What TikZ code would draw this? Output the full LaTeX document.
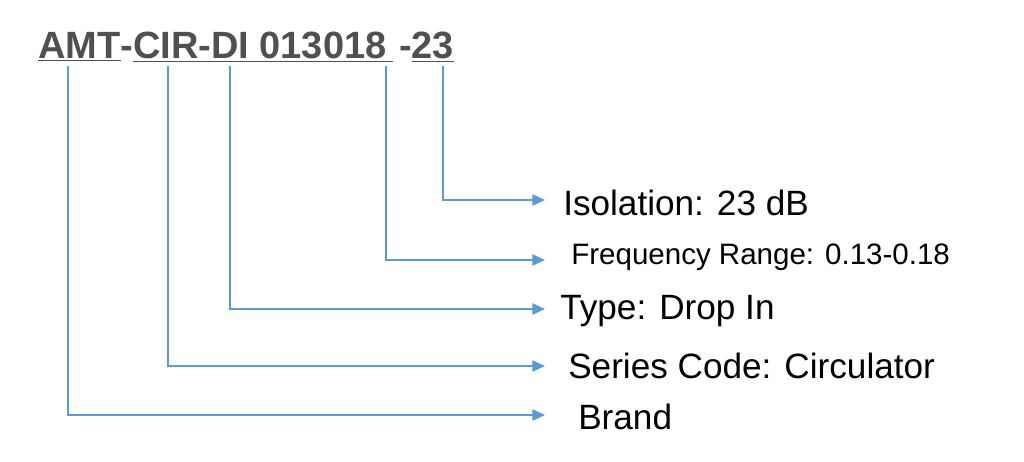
\documentclass[tikz,border=0pt]{standalone}
\usepackage{fontspec}
\setmainfont{Liberation Sans}
\usetikzlibrary{arrows.meta}
\definecolor{codegray}{HTML}{505050}
\definecolor{linkblue}{HTML}{5B9BD5}
\tikzset{
  lbl/.style={anchor=west, inner sep=0pt, font=\fontsize{25}{30}\selectfont},
  link/.style={linkblue, line width=1.2pt, -{Triangle[length=9pt,width=8pt]}}
}
\begin{document}
\begin{tikzpicture}[x=0.025cm, y=-0.025cm]
\useasboundingbox (0,0) rectangle (1024,461);
\node[anchor=west, inner sep=0pt, text=codegray, font=\bfseries\fontsize{27}{32}\selectfont] (code) at (38,47)
  {\underline{AMT}-\underline{CIR-DI 013018\,}\,-\underline{23}};

\coordinate (brand) at (68,66);
\coordinate (series) at (168,66);
\coordinate (type) at (230,66);
\coordinate (freq) at (386,66);
\coordinate (iso) at (443,66);

\node[lbl] (isoL) at (563,203) {Isolation: 23 dB};
\node[lbl, font=\fontsize{21}{26}\selectfont] (freqL) at (571,257) {Frequency Range: 0.13-0.18};
\node[lbl] (typeL) at (560,311) {Type: Drop In};
\node[lbl] (seriesL) at (568,366) {Series Code: Circulator};
\node[lbl] (brandL) at (578,417) {Brand};

\draw[link] (iso) |- (545,200);
\draw[link] (freq) |- (545,260);
\draw[link] (type) |- (545,309);
\draw[link] (series) |- (545,366);
\draw[link] (brand) |- (545,415);
\end{tikzpicture}
\end{document}
